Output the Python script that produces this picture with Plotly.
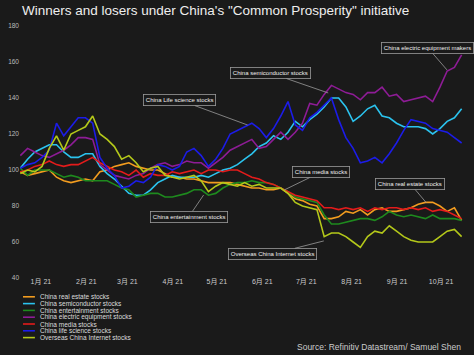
import plotly.graph_objects as go
import pandas as pd

# ---------------- data ----------------
dates = pd.date_range("2020-12-18", "2021-10-15", periods=62)

real_estate = [99, 97, 98, 99, 100, 96, 94, 93, 94, 95, 94, 99, 100, 102, 103, 104,
               102, 101, 100, 100, 98, 96, 96, 95, 95, 94, 93, 93, 93, 93, 92, 91,
               90, 90, 89, 89, 90, 87, 84, 83, 81, 80, 73, 73, 74, 77, 76, 78,
               75, 78, 79, 77, 77, 78, 79, 81, 82, 82, 80, 77, 79, 72]
semiconductor = [101, 106, 110, 112, 114, 114, 110, 107, 107, 109, 109, 102, 98, 95, 91, 87,
                 86, 86, 89, 93, 95, 97, 96, 96, 96, 97, 96, 98, 100, 101, 103, 106,
                 109, 113, 115, 119, 117, 121, 127, 124, 128, 131, 135, 140, 140, 135, 127, 130,
                 134, 136, 130, 129, 126, 124, 124, 124, 123, 120, 123, 127, 129, 134]
entertainment = [101, 97, 100, 100, 100, 98, 96, 97, 96, 94, 94, 94, 94, 92, 90, 89,
                 85, 86, 87, 87, 85, 85, 86, 87, 89, 89, 86, 87, 90, 92, 93, 93,
                 94, 93, 93, 92, 90, 88, 85, 84, 83, 82, 75, 70, 70, 71, 72, 73,
                 73, 72, 74, 77, 75, 74, 75, 74, 73, 75, 73, 73, 73, 72]
electric = [108, 112, 110, 108, 107, 109, 111, 114, 118, 118, 117, 103, 100, 97, 96, 95,
            97, 98, 101, 103, 104, 102, 103, 105, 104, 104, 101, 104, 107, 111, 113, 115,
            117, 112, 113, 117, 121, 117, 121, 126, 137, 136, 142, 147, 145, 143, 142, 139,
            143, 143, 146, 141, 142, 138, 139, 140, 141, 138, 146, 155, 157, 164]
media = [99, 100, 102, 103, 105, 103, 102, 103, 103, 105, 107, 104, 102, 100, 99, 97,
         100, 96, 98, 97, 97, 99, 98, 99, 100, 98, 100, 100, 99, 100, 100, 98,
         96, 95, 93, 92, 90, 88, 86, 85, 84, 83, 79, 79, 78, 79, 78, 79,
         77, 79, 78, 79, 79, 78, 79, 78, 79, 77, 78, 77, 75, 73]
life_science = [101, 103, 104, 107, 111, 126, 119, 124, 129, 129, 126, 107, 101, 97, 90, 91,
                94, 93, 96, 103, 102, 100, 102, 110, 112, 108, 102, 106, 112, 120, 122, 124,
                126, 123, 118, 123, 130, 138, 125, 122, 129, 132, 136, 140, 128, 118, 112, 104,
                105, 107, 104, 109, 115, 122, 128, 127, 126, 123, 122, 121, 118, 115]
overseas_internet = [98, 100, 99, 102, 112, 119, 111, 120, 122, 124, 130, 120, 117, 113, 106, 108,
                     104, 99, 101, 102, 97, 96, 95, 96, 97, 94, 88, 91, 93, 92, 91, 93,
                     91, 92, 90, 90, 90, 87, 82, 80, 79, 78, 63, 65, 65, 63, 60, 57,
                     63, 66, 65, 69, 66, 63, 61, 60, 60, 60, 63, 66, 67, 63]

series_names = ["China real estate stocks", "China semiconductor stocks",
                "China entertainment stocks", "China electric equipment stocks",
                "China media stocks", "China life science stocks",
                "Overseas China Internet stocks"]
series_values = [real_estate, semiconductor, entertainment, electric,
                 media, life_science, overseas_internet]
colors = ["#f29c1f", "#2bc3ee", "#1e8a1e", "#8e1c96",
          "#e41b1b", "#1c1ce8", "#b4c81a"]

tick_dates = ["2021-01-01", "2021-02-01", "2021-03-01", "2021-04-01", "2021-05-01",
              "2021-06-01", "2021-07-01", "2021-08-01", "2021-09-01", "2021-10-01"]
tick_text = ["1月 21", "2月 21", "3月 21", "4月 21", "5月 21",
             "6月 21", "7月 21", "8月 21", "9月 21", "10月 21"]

callouts = [
    ("China electric equipment makers", "2021-10-05", 155.6, -19, -22),
    ("China semiconductor stocks", "2021-07-16", 142.8, -58, -20),
    ("China Life science stocks", "2021-05-22", 125.0, -68, -25),
    ("China media stocks", "2021-06-16", 88.9, 37, -18),
    ("China real estate stocks", "2021-09-21", 81.7, -16, -19),
    ("China entertainment stocks", "2021-04-22", 86.1, -15, 22),
    ("Overseas China Internet stocks", "2021-07-13", 60.6, -51, 13),
]

# ---------------- layout helpers ----------------
W, H = 474, 355
L, R, T, B = 17, 466, 26, 278
BG = "#1a1a1a"
FONT = "Liberation Sans, Arial, Noto Sans CJK SC, sans-serif"


def px_x(x):
    return (x - L) / (R - L)


def px_y(y):
    return (B - y) / (B - T)


base = pd.Timestamp("2021-01-01")
x_start = base + pd.Timedelta(days=(L - 38) / 1.476)
x_end = base + pd.Timedelta(days=(R - 38) / 1.476)

fig = go.Figure()
for name, vals, col in zip(series_names, series_values, colors):
    fig.add_trace(go.Scatter(x=dates, y=vals, mode="lines", name=name,
                             line=dict(color=col, width=1.6), showlegend=False,
                             hoverinfo="skip"))

annotations = []
shapes = []

# title
annotations.append(dict(text="Winners and losers under China's \"Common Prosperity\" initiative",
                        xref="paper", yref="paper", x=px_x(17), y=px_y(11),
                        xanchor="left", yanchor="middle", showarrow=False,
                        font=dict(family=FONT, size=13.5, color="#eeeeee")))

# callouts
for text, xd, yv, ax, ay in callouts:
    annotations.append(dict(text=text, x=xd, y=yv, xref="x", yref="y",
                            ax=ax, ay=ay, showarrow=True, arrowhead=0,
                            arrowwidth=0.8, arrowcolor="#9a9a9a",
                            bordercolor="#9a9a9a", borderwidth=0.8, borderpad=2,
                            bgcolor=BG, font=dict(family=FONT, size=6, color="#eeeeee")))

# manual legend
for i, (name, col) in enumerate(zip(series_names, colors)):
    yy = 296.8 + i * 6.8
    shapes.append(dict(type="line", xref="paper", yref="paper",
                       x0=px_x(20), x1=px_x(32), y0=px_y(yy), y1=px_y(yy),
                       line=dict(color=col, width=1.6)))
    annotations.append(dict(text=name, xref="paper", yref="paper",
                            x=px_x(35), y=px_y(yy), xanchor="left", yanchor="middle",
                            showarrow=False,
                            font=dict(family=FONT, size=6.5, color="#dddddd")))

# source
annotations.append(dict(text="Source: Refinitiv Datastream/ Samuel Shen",
                        xref="paper", yref="paper", x=px_x(463), y=px_y(347),
                        xanchor="right", yanchor="middle", showarrow=False,
                        font=dict(family=FONT, size=8.5, color="#cccccc")))

fig.update_layout(
    width=W, height=H,
    margin=dict(l=L, r=W - R, t=T, b=H - B, pad=0),
    paper_bgcolor=BG, plot_bgcolor=BG,
    showlegend=False, hovermode=False,
    annotations=annotations, shapes=shapes,
    xaxis=dict(range=[x_start, x_end], tickvals=tick_dates, ticktext=tick_text,
               showgrid=False, zeroline=False, showline=False, ticks="",
               tickfont=dict(family=FONT, size=7, color="#cccccc"),
               anchor="free", position=0.008),
    yaxis=dict(range=[40, 180], tickvals=[40, 60, 80, 100, 120, 140, 160, 180],
               showgrid=False, zeroline=False, showline=False, ticks="",
               tickfont=dict(family=FONT, size=6.5, color="#bbbbbb")),
)

fig.write_html("out.html",
               config={"displayModeBar": False},
               post_script="document.body.style.margin='0';"
                           "document.body.style.background='#1a1a1a';")
